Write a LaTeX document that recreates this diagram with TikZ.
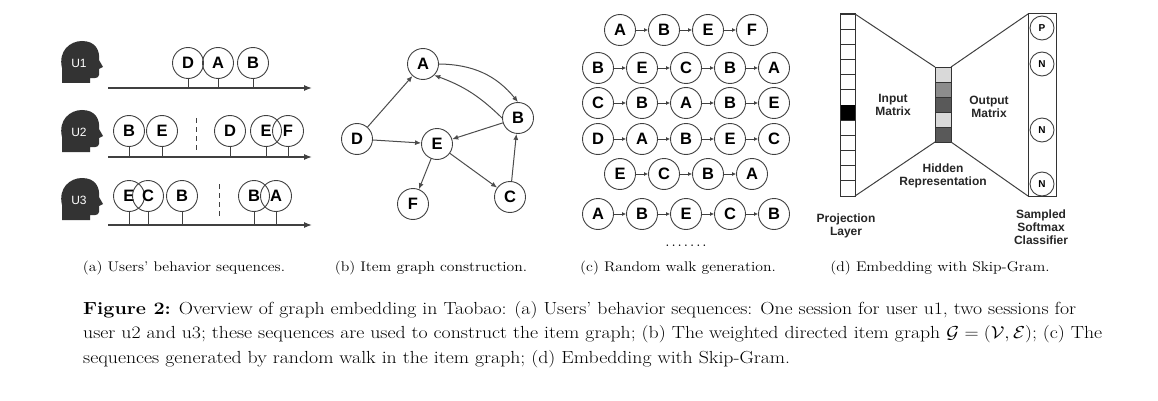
\documentclass[tikz,border=0pt]{standalone}
\usepackage{fontspec}
\newfontfamily\sansf{Liberation Sans}
\usetikzlibrary{arrows.meta}
\begin{document}
\begin{tikzpicture}[x=1pt,y=-1pt,
  it/.style={circle,draw=black!75,line width=0.9pt,minimum size=31pt,inner sep=0pt,font=\sansf\bfseries\fontsize{16.5}{16.5}\selectfont},
  sm/.style={it,minimum size=24pt,font=\sansf\bfseries\fontsize{10}{10}\selectfont},
  edge/.style={draw=black!70,line width=1pt,-{Latex[length=6pt,width=5pt]}},
  tl/.style={draw=black!75,line width=1.3pt,-{Latex[length=8pt,width=6pt]}},
  stem/.style={draw=black!75,line width=1pt},
  lab/.style={font=\sansf\bfseries\fontsize{12}{13}\selectfont,align=center,text=black!85},
  sub/.style={font=\fontsize{14}{16}\selectfont,xscale=1.12,transform shape}]
\useasboundingbox (0,0) rectangle (1158,401);
% ---- (a)
\foreach \y/\t/\n in {63/U1/h1,132/U2/h2,200/U3/h3}{
  \fill[black!80] (\y*0+62,\y+20) -- (62,\y+5) .. controls (58,\y-12) and (70,\y-22) .. (82,\y-22)
    .. controls (96,\y-22) and (100,\y-12) .. (99,\y-3) -- (103,\y+4) -- (99,\y+6) -- (99,\y+12)
    .. controls (99,\y+16) and (92,\y+15) .. (90,\y+15) -- (90,\y+20) -- cycle;
  \node[text=white,font=\sansf\fontsize{12}{12}\selectfont] (\n) at (79,\y) {\t};
}
\coordinate (s1) at (108,88); \coordinate (e1) at (312,88);
\coordinate (s2) at (108,157); \coordinate (e2) at (312,157);
\coordinate (s3) at (108,225); \coordinate (e3) at (312,225);
\draw[tl] (s1)--(e1); \draw[tl] (s2)--(e2); \draw[tl] (s3)--(e3);
\foreach \x/\l/\n/\r in {188/D/a1/1,218/A/a2/1,253/B/a3/1,
  129/B/b1/2,162/E/b2/2,230/D/b3/2,266/E/b4/2,288/F/b5/2,
  129/E/c1/3,148/C/c2/3,182/B/c3/3,254/B/c4/3,276/A/c5/3}{
  \pgfmathsetmacro\yy{\r==1?63:(\r==2?131:196)}
  \pgfmathsetmacro\yl{\r==1?88:(\r==2?157:225)}
  \node[it] (\n) at (\x,\yy) {\l};
  \draw[stem] (\n.south) -- (\x,\yl);
}
\draw[black!75,line width=1pt,dash pattern=on 5pt off 4pt] (196,118)--(196,152);
\draw[black!75,line width=1pt,dash pattern=on 5pt off 4pt] (219,184)--(219,218);
\node[sub] (ca) at (184,268) {(a) Users' behavior sequences.};
% ---- (b)
\node[it] (A) at (423,64) {A};
\node[it] (B) at (518,118) {B};
\node[it] (D) at (357,139) {D};
\node[it] (E) at (437,144) {E};
\node[it] (F) at (413,204) {F};
\node[it] (C) at (510,197) {C};
\draw[edge] (D)--(A); \draw[edge] (D)--(E); \draw[edge] (B)--(E);
\draw[edge] (E)--(F); \draw[edge] (E)--(C); \draw[edge] (C)--(B);
\draw[edge] (A.east) to[bend left=25] (B.north);
\draw[edge] (B.west) to[bend right=12] (A.south east);
\node[sub] (cb) at (431,268) {(b) Item graph construction.};
% ---- (c)
\foreach \row/\y/\seq/\xs in {1/30/{A,B,E,F}/620,2/68/{B,E,C,B,A}/598,3/103/{C,B,A,B,E}/598,
   4/139/{D,A,B,E,C}/598,5/174/{E,C,B,A}/620,6/214/{A,B,E,C,B}/598}{
  \foreach \l [count=\i] in \seq {
    \node[it] (w\row-\i) at (\xs+44*\i-44,\y) {\l};
    \ifnum\i>1 \pgfmathtruncatemacro\p{\i-1}\draw[draw=black!75,line width=0.8pt,-{Latex[length=4pt,width=4pt]}] (w\row-\p)--(w\row-\i);\fi
  }
}
\node[font=\bfseries] (dots) at (686,246) {.\hspace{3pt}.\hspace{3pt}.\hspace{3pt}.\hspace{3pt}.\hspace{3pt}.\hspace{3pt}.};
\node[sub] (cc) at (678,268) {(c) Random walk generation.};
% ---- (d)
\foreach \i in {0,...,11}{
  \draw[black!80,line width=0.9pt,fill=white] (840,14+\i*15.17) rectangle (855,14+\i*15.17+15.17);
}
\fill[black] (840,14+6*15.17) rectangle (855,14+7*15.17);
\draw[black!80,line width=1pt] (840,14) rectangle (855,196);
\foreach \i/\c in {0/black!15,1/black!45,2/black!65,3/black!15,4/black!65}{
  \draw[black!80,line width=0.9pt,fill=\c] (935,67+\i*15) rectangle (951,82+\i*15);
}
\draw[black!80,line width=1pt] (1028,14) rectangle (1056,196);
\draw[black!75,line width=1pt] (855,14)--(935,67) (855,196)--(935,142) (951,67)--(1028,14) (951,142)--(1028,196);
\node[sm] (P) at (1042,28) {P};
\node[sm] (N1) at (1042,64) {N};
\node[sm] (N2) at (1042,130) {N};
\node[sm] (N3) at (1042,184) {N};
\node[lab] (im) at (893,105) {Input\\Matrix};
\node[lab] (om) at (989,107) {Output\\Matrix};
\node[lab] (hr) at (943,176) {Hidden\\Representation};
\node[lab] (pl) at (846,226) {Projection\\Layer};
\node[lab] (sc) at (1041,227) {Sampled\\Softmax\\Classifier};
\node[sub] (cd) at (940,268) {(d) Embedding with Skip-Gram.};
% ---- caption
\node[anchor=north west,align=left,font=\fontsize{17.5}{24.5}\selectfont,inner sep=0pt,xscale=1.13,transform shape] (cap) at (83,301)
{\textbf{Figure 2:} Overview of graph embedding in Taobao: (a) Users' behavior sequences: One session for user u1, two sessions for\\
user u2 and u3; these sequences are used to construct the item graph; (b) The weighted directed item graph $\mathcal{G}=(\mathcal{V},\mathcal{E})$; (c) The\\
sequences generated by random walk in the item graph; (d) Embedding with Skip-Gram.};
\end{tikzpicture}
\end{document}
